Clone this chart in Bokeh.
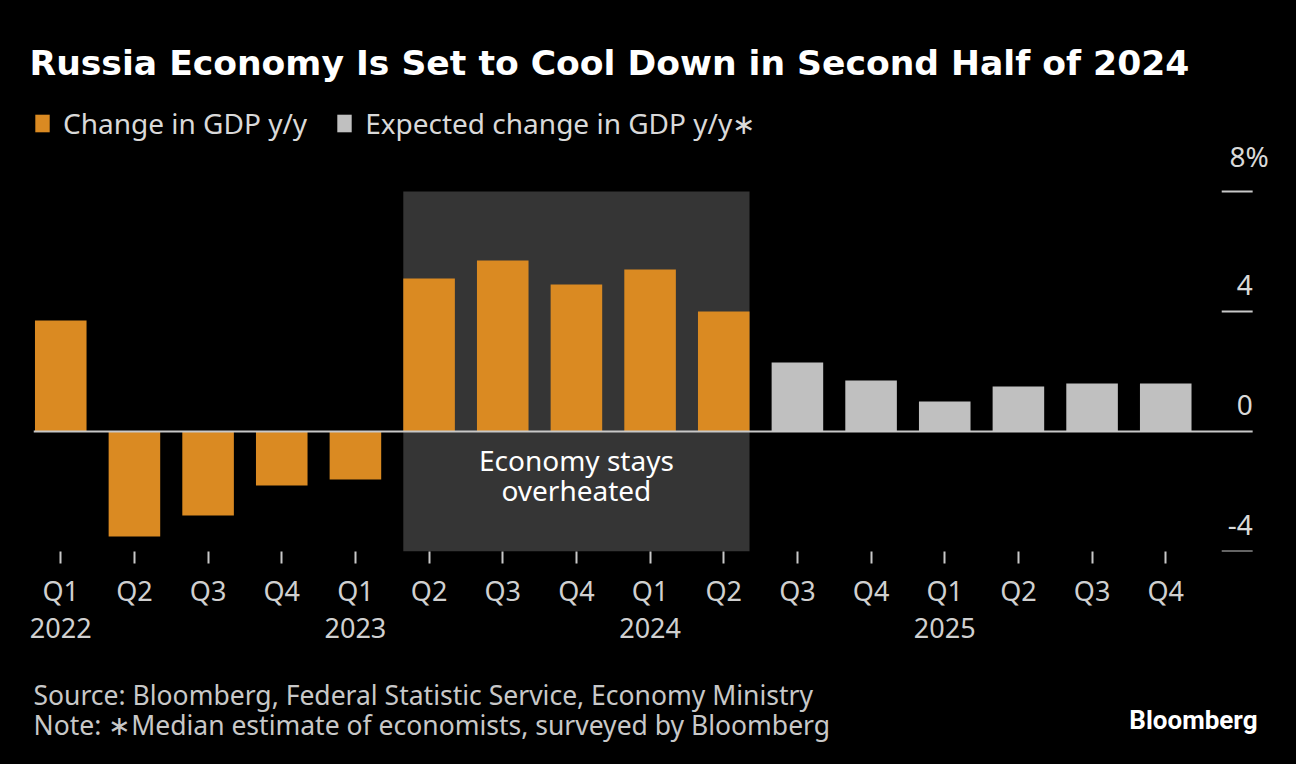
from bokeh.plotting import figure
from bokeh.layouts import column
from bokeh.models import Range1d, FixedTicker, Legend, LegendItem, BoxAnnotation
from bokeh.core.properties import value
from bokeh.embed import file_html
from bokeh.resources import INLINE

# quarters Q1 2022 .. Q4 2025
quarters = ["Q1", "Q2", "Q3", "Q4"] * 4
years = ["2022", "2023", "2024", "2025"]
gdp_actual = [3.7, -3.5, -2.8, -1.8, -1.6, 5.1, 5.7, 4.9, 5.4, 4.0]
gdp_expected = [2.3, 1.7, 1.0, 1.5, 1.6, 1.6]
y_ticks = [-4, 0, 4, 8]
y_tick_labels = ["-4", "0", "4", "8%"]
overheated = (5, 9)  # Q2 2023 .. Q2 2024

source_note = ["Source: Bloomberg, Federal Statistic Service, Economy Ministry",
               "Note: \u2217Median estimate of economists, surveyed by Bloomberg"]

ORANGE = "#da8a22"
GRAY = "#c0c0c0"
FONT = "Noto Sans"

n = len(quarters)
x_act = list(range(len(gdp_actual)))
x_exp = list(range(len(gdp_actual), n))
bar_w = 0.7
x_lo, x_hi = -0.37, 16.49
tick_end = 16.18

p = figure(width=1296, height=660, x_range=Range1d(x_lo, x_hi), y_range=Range1d(-4, 10.9),
           output_backend="svg", toolbar_location=None, tools="", y_axis_location=None,
           outline_line_color=None,
           min_border_left=33, min_border_right=21, min_border_top=104, min_border_bottom=109)
p.background_fill_color = "black"
p.border_fill_color = "black"
p.styles = {"background-color": "black"}
p.grid.visible = False

p.title.text = "Russia Economy Is Set to Cool Down in Second Half of 2024"
p.title.align = "left"
p.title.text_color = "white"
p.title.text_font = "DejaVu Sans"
p.title.text_font_size = "34.6px"
p.title.text_font_style = "bold"
p.title.standoff = 43
p.title.offset = -4

# shaded period
shade = BoxAnnotation(left=overheated[0] - bar_w / 2, right=overheated[1] + bar_w / 2,
                      bottom=y_ticks[0], top=y_ticks[-1], fill_color="#353535", fill_alpha=1,
                      line_color=None, level="underlay")
p.add_layout(shade)

r_act = p.vbar(x=x_act, top=gdp_actual, width=bar_w, fill_color=ORANGE, line_color=None)
r_exp = p.vbar(x=x_exp, top=gdp_expected, width=bar_w, fill_color=GRAY, line_color=None)

# zero line and y ticks
x0s = [x_lo if t == 0 else 15.76 for t in y_ticks]
p.segment(x0=x0s, y0=y_ticks, x1=[tick_end] * len(y_ticks), y1=y_ticks,
          line_color="#c8c8c8", line_width=2)
p.text(x=[tick_end] * len(y_ticks), y=y_ticks, text=y_tick_labels,
       x_offset=[16 if "%" in s else 0 for s in y_tick_labels], y_offset=-17,
       text_align="right", text_baseline="bottom", text_color="#d9d9d9",
       text_font=value(FONT), text_font_size="28px")

p.text(x=[(overheated[0] + overheated[1]) / 2], y=[-0.3], text=["Economy stays\noverheated"],
       text_align="center", text_baseline="top", text_color="white",
       text_font=value(FONT), text_font_size="28px", text_line_height=0.8)

legend = Legend(items=[LegendItem(label="Change in GDP y/y", renderers=[r_act]),
                       LegendItem(label="Expected change in GDP y/y\u2217", renderers=[r_exp])],
                location="top_left", orientation="horizontal", margin=0, padding=0,
                background_fill_alpha=0, border_line_color=None,
                label_text_color="#d9d9d9", label_text_font=FONT, label_text_font_size="28px",
                glyph_width=18, glyph_height=22, label_standoff=12, spacing=28)
p.add_layout(legend)

labels = {}
for i, q in enumerate(quarters):
    labels[i] = q + "\n" + years[i // 4] if q == "Q1" else q
p.xaxis.ticker = FixedTicker(ticks=list(range(n)))
p.xaxis.major_label_overrides = labels
p.xaxis.axis_line_color = None
p.xaxis.minor_tick_line_color = None
p.xaxis.major_tick_in = 0
p.xaxis.major_tick_out = 12
p.xaxis.major_tick_line_color = "#c8c8c8"
p.xaxis.major_tick_line_width = 2
p.xaxis.major_label_standoff = 8
p.xaxis.major_label_text_color = "#d0d0d0"
p.xaxis.major_label_text_font = FONT
p.xaxis.major_label_text_font_size = "27px"
p.xaxis.major_label_text_line_height = 1.0

# footer strip: its frame lines up with the chart frame (33..1275 px)
foot = figure(width=1296, height=104, x_range=Range1d(33, 1275), y_range=Range1d(764, 660),
              output_backend="svg", toolbar_location=None, tools="",
              x_axis_location=None, y_axis_location=None, outline_line_color=None,
              min_border=0)
foot.background_fill_color = "black"
foot.border_fill_color = "black"
foot.styles = {"background-color": "black"}
foot.grid.visible = False
foot.text(x=[33, 33], y=[694, 724], text=source_note, text_align="left", text_baseline="middle",
          text_color="#c8c8c8", text_font=value(FONT), text_font_size="26.5px")
foot.text(x=[1257], y=[719], text=["Bloomberg"], text_align="right", text_baseline="middle",
          text_color="white", text_font=value("Roboto"), text_font_size="26px",
          text_font_style="bold")

page = column(p, foot, spacing=0, styles={"background-color": "black"})
open("out.html", "w").write(file_html(page, INLINE))
